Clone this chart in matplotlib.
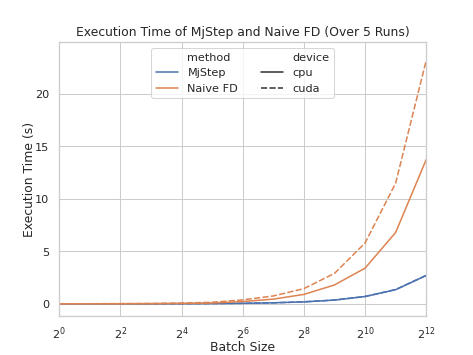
import matplotlib
matplotlib.use("Agg")
import matplotlib.pyplot as plt
import seaborn as sns
import pandas as pd

# batch sizes 2^0 .. 2^12
batch = [2 ** i for i in range(13)]

# mean execution time (s)
mjstep_cpu = [0.002, 0.003, 0.005, 0.008, 0.015, 0.03, 0.05, 0.1, 0.19, 0.36, 0.7, 1.35, 2.7]
mjstep_cuda = [0.003, 0.004, 0.006, 0.009, 0.016, 0.03, 0.05, 0.1, 0.19, 0.36, 0.7, 1.36, 2.72]
naive_cpu = [0.005, 0.008, 0.012, 0.02, 0.04, 0.08, 0.22, 0.45, 0.9, 1.8, 3.4, 6.8, 13.75]
naive_cuda = [0.008, 0.012, 0.02, 0.035, 0.07, 0.15, 0.38, 0.75, 1.45, 2.9, 5.8, 11.5, 23.2]

rows = []
for m, d, vals in [("MjStep", "cpu", mjstep_cpu), ("MjStep", "cuda", mjstep_cuda),
                   ("Naive FD", "cpu", naive_cpu), ("Naive FD", "cuda", naive_cuda)]:
    for b, v in zip(batch, vals):
        rows.append({"batch": b, "time": v, "method": m, "device": d})
df = pd.DataFrame(rows)

sns.set_theme(style="whitegrid")
fig, ax = plt.subplots(figsize=(6.4, 4.8), dpi=74)

sns.lineplot(data=df, x="batch", y="time", hue="method", style="device",
             style_order=["cpu", "cuda"], errorbar=None, ax=ax)

ax.set_xscale("log", base=2)
ax.set_xticks([2 ** i for i in range(0, 13, 2)])
ax.set_xlim(1, 4096)
ax.set_ylim(-1.15, 24.9)
ax.set_xlabel("Batch Size", labelpad=-1)
ax.set_ylabel("Execution Time (s)", labelpad=-1)
ax.set_title("Execution Time of MjStep and Naive FD (Over 5 Runs)")
ax.legend(loc="upper center", ncol=2)

fig.savefig("out.png", dpi=74)
